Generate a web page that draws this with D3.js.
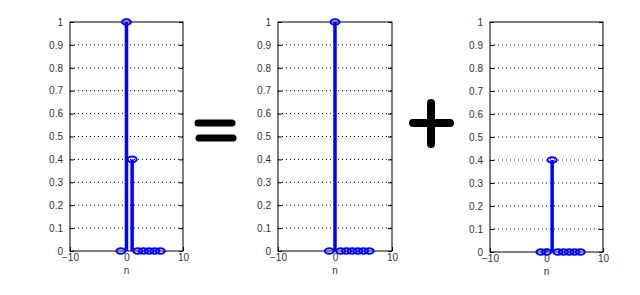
<!DOCTYPE html>
<html>
<head>
<meta charset="utf-8">
<script src="https://cdn.jsdelivr.net/npm/d3@7"></script>
<style>
  body { margin: 0; background: #fff; }
  svg text { font-family: "Liberation Sans", Arial, sans-serif; font-size: 10px; fill: #333; }
</style>
</head>
<body>
<div id="chart"></div>
<script>
const nValues = [-1, 0, 1, 2, 3, 4, 5, 6];
const totalSignal = [0, 1, 0.4, 0, 0, 0, 0, 0];
const firstSignal = [0, 1, 0, 0, 0, 0, 0, 0];
const secondSignal = [0, 0, 0.4, 0, 0, 0, 0, 0];
const yTickValues = [0, 0.1, 0.2, 0.3, 0.4, 0.5, 0.6, 0.7, 0.8, 0.9, 1];
const xTickValues = [-10, 0, 10];
const xLabel = "n";

const width = 640, height = 295;
const svg = d3.select("#chart").append("svg")
    .attr("width", width)
    .attr("height", height);

const panels = [
    { values: totalSignal, left: 70, right: 183, top: 22, bottom: 251 },
    { values: firstSignal, left: 278, right: 392, top: 22, bottom: 251 },
    { values: secondSignal, left: 490, right: 603, top: 22, bottom: 252 }
];

panels.forEach(p => {
    const x = d3.scaleLinear().domain([-10, 10]).range([p.left, p.right]);
    const y = d3.scaleLinear().domain([0, 1]).range([p.bottom, p.top]);
    const g = svg.append("g");

    // dotted grid
    g.selectAll(".grid")
        .data(yTickValues.filter(d => d > 0 && d < 1))
        .enter().append("line")
        .attr("x1", p.left).attr("x2", p.right)
        .attr("y1", d => y(d)).attr("y2", d => y(d))
        .attr("stroke", "#000")
        .attr("stroke-width", 1)
        .attr("stroke-dasharray", "1,3");

    // box
    g.append("rect")
        .attr("x", p.left).attr("y", p.top)
        .attr("width", p.right - p.left).attr("height", p.bottom - p.top)
        .attr("fill", "none")
        .attr("stroke", "#000")
        .attr("stroke-width", 1);

    // left axis with inward ticks
    const yAxis = d3.axisLeft(y).tickValues(yTickValues).tickSize(-4).tickPadding(7)
        .tickFormat(d => d === 0 || d === 1 ? d : d3.format(".1f")(d));
    g.append("g").attr("transform", `translate(${p.left},0)`).call(yAxis)
        .call(a => a.select(".domain").remove())
        .call(a => a.selectAll("line").attr("stroke", "#000"))
        .call(a => a.selectAll("text").attr("fill", "#333").style("font-size", "10px"));
    // right inward ticks
    g.append("g").attr("transform", `translate(${p.right},0)`)
        .call(d3.axisRight(y).tickValues(yTickValues).tickSize(-4).tickFormat(""))
        .call(a => a.select(".domain").remove())
        .call(a => a.selectAll("line").attr("stroke", "#000"));

    const xAxis = d3.axisBottom(x).tickValues(xTickValues).tickSize(-4).tickPadding(3);
    g.append("g").attr("transform", `translate(0,${p.bottom})`).call(xAxis)
        .call(a => a.select(".domain").remove())
        .call(a => a.selectAll("line").attr("stroke", "#000"))
        .call(a => a.selectAll("text").attr("fill", "#333").style("font-size", "10px"));

    g.append("text")
        .attr("x", x(0)).attr("y", p.bottom + 23)
        .attr("text-anchor", "middle")
        .text(xLabel);

    const pts = nValues.map((n, i) => ({ n, v: p.values[i] }));
    g.selectAll(".stem").data(pts.filter(d => d.v !== 0)).enter().append("line")
        .attr("x1", d => x(d.n)).attr("x2", d => x(d.n))
        .attr("y1", y(0)).attr("y2", d => y(d.v))
        .attr("stroke", "#0000ff")
        .attr("stroke-width", 3.5);
    g.selectAll(".mark").data(pts).enter().append("ellipse")
        .attr("cx", d => x(d.n)).attr("cy", d => y(d.v))
        .attr("rx", 4.5).attr("ry", 2.8)
        .attr("fill", "none")
        .attr("stroke", "#0000ff")
        .attr("stroke-width", 2);
});

// equals and plus signs
const ops = svg.append("g").attr("stroke", "#000").attr("stroke-linecap", "round").attr("stroke-width", 7);
ops.append("line").attr("x1", 198).attr("x2", 232).attr("y1", 123).attr("y2", 123);
ops.append("line").attr("x1", 199).attr("x2", 233).attr("y1", 138).attr("y2", 138);
ops.append("line").attr("x1", 413).attr("x2", 450).attr("y1", 123).attr("y2", 123).attr("stroke-width", 8);
ops.append("line").attr("x1", 431).attr("x2", 431).attr("y1", 103).attr("y2", 144).attr("stroke-width", 8);
</script>
</body>
</html>
